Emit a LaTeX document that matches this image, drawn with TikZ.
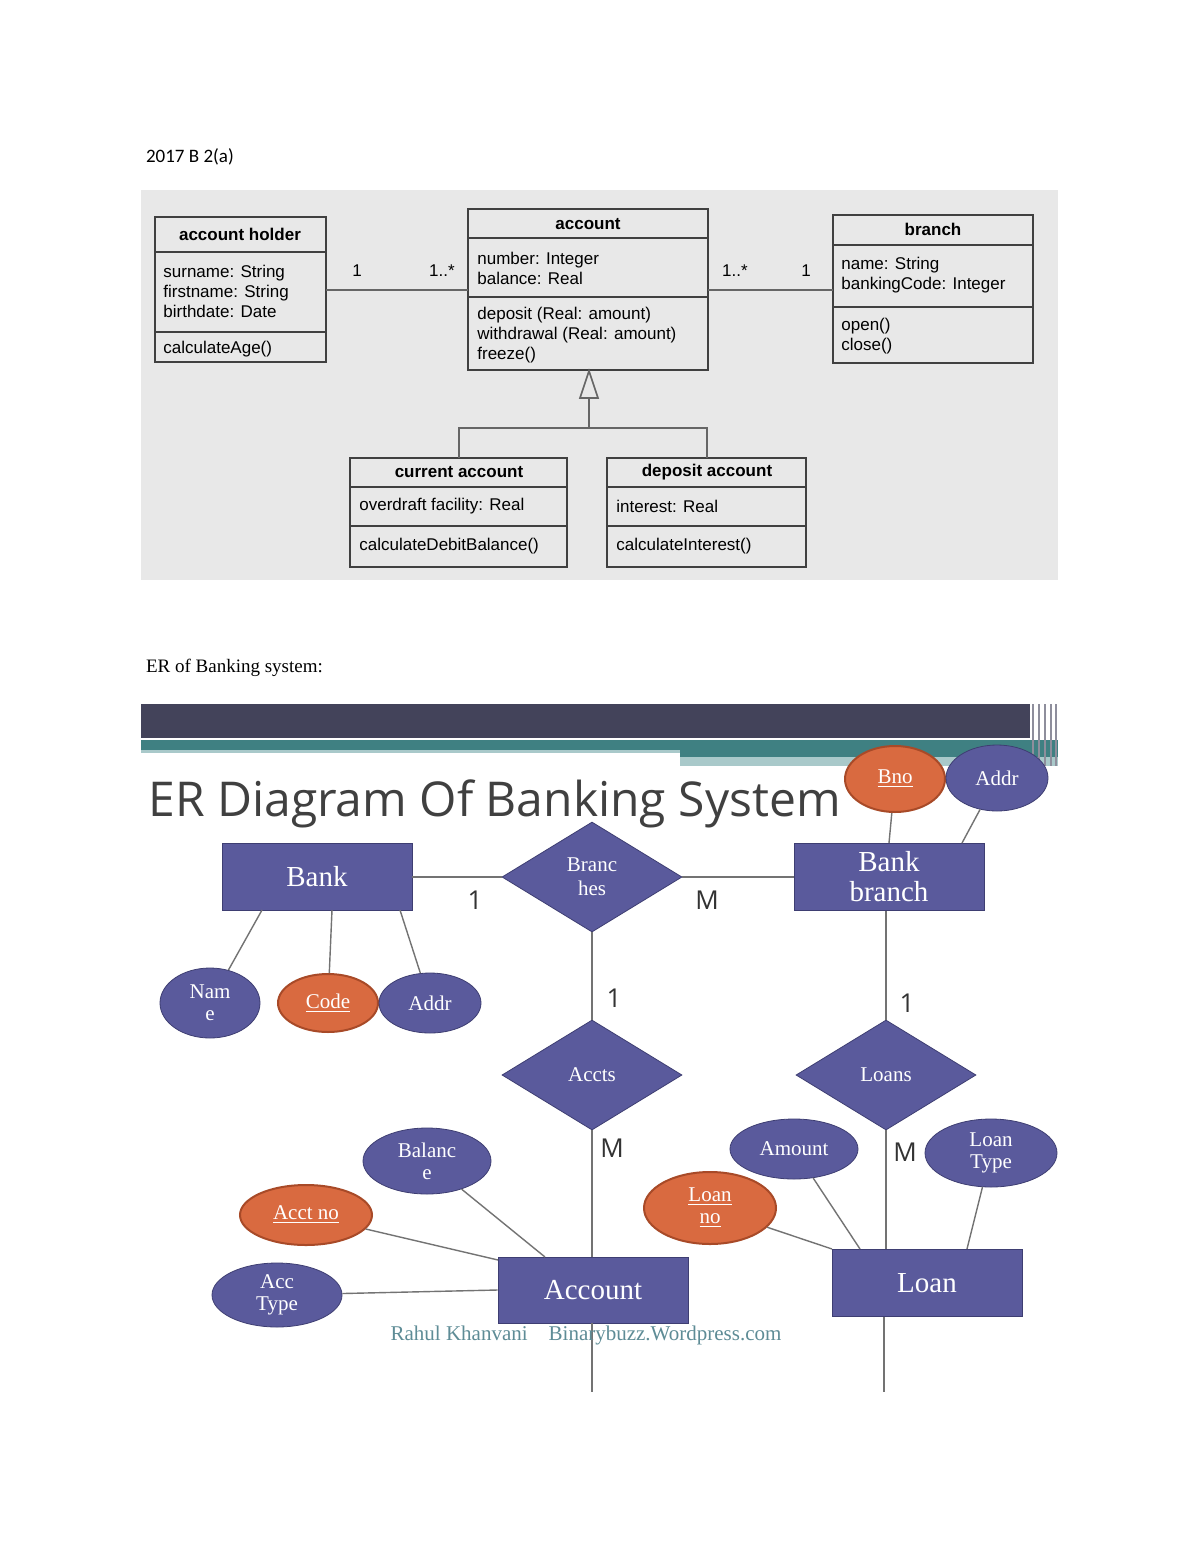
\documentclass[tikz,border=0pt]{standalone}
\usepackage{fontspec}
\setmainfont{Liberation Serif}
\newfontfamily\umlfnt{Liberation Sans}
\newfontfamily\calfnt{Carlito}
\newfontfamily\ttlfnt{Open Sans}
\usetikzlibrary{shapes.geometric}
\definecolor{umlbg}{HTML}{E8E8E8}
\definecolor{dk}{HTML}{43435A}
\definecolor{tl}{HTML}{3F8082}
\definecolor{tll}{HTML}{A9C9CA}
\definecolor{pur}{HTML}{5A5A9C}
\definecolor{purd}{HTML}{3E3E72}
\definecolor{org}{HTML}{D96A40}
\definecolor{orgd}{HTML}{A84A28}
\definecolor{ttlc}{HTML}{404040}
\definecolor{foot}{HTML}{5E8C96}
\begin{document}
\begin{tikzpicture}[x=0.5pt,y=-0.5pt,
 box/.style={draw=black!75,line width=0.8pt},
 ut/.style={font=\umlfnt\fontsize{8.5}{10}\selectfont,anchor=west,align=left,inner sep=0pt},
 uh/.style={font=\umlfnt\bfseries\fontsize{8.5}{10}\selectfont,inner sep=0pt},
 uc/.style={font=\umlfnt\fontsize{8.5}{10}\selectfont},
 ln/.style={draw=black!60,line width=0.8pt},
 ent/.style={draw=purd,fill=pur,text=white,font=\fontsize{14.5}{15}\selectfont,align=center,inner sep=0pt},
 rel/.style={diamond,draw=purd,fill=pur,text=white,font=\fontsize{10.5}{12}\selectfont,align=center,inner sep=0pt,minimum width=90pt,minimum height=55pt},
 att/.style={ellipse,draw=purd,fill=pur,text=white,font=\fontsize{10.5}{11}\selectfont,align=center,inner sep=0pt},
 key/.style={ellipse,draw=orgd,line width=1pt,fill=org,text=white,font=\fontsize{10.5}{11}\selectfont,align=center,inner sep=0pt},
 er/.style={draw=black!55,line width=0.7pt},
 card/.style={font=\ttlfnt\fontsize{13}{14}\selectfont,text=black!80}]
\useasboundingbox (0,0) rectangle (1200,1553);
\fill[white] (0,0) rectangle (1200,1553);
\node[font=\calfnt\fontsize{9.5}{10}\selectfont,anchor=west] (hd) at (139,157) {2017 B 2(a)};
\fill[umlbg] (141,190) rectangle (1058,580);
% account holder
\draw[box] (155,217) rectangle (326,362);
\draw[box] (155,252)--(326,252) (155,332)--(326,332);
\node[uh] (ahh) at (240,234) {account holder};
\node[ut] (aha) at (163,291) {surname: String\\firstname: String\\birthdate: Date};
\node[ut] (ahm) at (163,349) {calculateAge()};
\coordinate (ahR) at (326,290);
% account
\draw[box] (468,209) rectangle (708,370);
\draw[box] (468,238)--(708,238) (468,297)--(708,297);
\node[uh] (ach) at (588,224) {account};
\node[ut] (aca) at (477,268) {number: Integer\\balance: Real};
\node[ut] (acm) at (477,335) {deposit (Real: amount)\\withdrawal (Real: amount)\\freeze()};
\coordinate (acL) at (468,290); \coordinate (acR) at (708,290);
% branch
\draw[box] (833,215) rectangle (1033,363);
\draw[box] (833,245)--(1033,245) (833,307)--(1033,307);
\node[uh] (brh) at (933,229) {branch};
\node[ut] (bra) at (841,275) {name: String\\bankingCode: Integer};
\node[ut] (brm) at (841,336) {open()\\close()};
\coordinate (brL) at (833,290);
% current / deposit
\draw[box] (350,458) rectangle (567,567);
\draw[box] (350,487)--(567,487) (350,526)--(567,526);
\node[uh] (cuh) at (459,472) {current account};
\node[ut] (cua) at (359,506) {overdraft facility: Real};
\node[ut] (cum) at (359,546) {calculateDebitBalance()};
\draw[box] (607,458) rectangle (806,567);
\draw[box] (607,487)--(806,487) (607,526)--(806,526);
\node[uh] (deh) at (707,472) {deposit account};
\node[ut] (dea) at (616,506) {interest: Real};
\node[ut] (dem) at (616,546) {calculateInterest()};
\draw[ln] (ahR)--(acL) (acR)--(brL);
\node[uc] (c1) at (357,271) {1};
\node[uc] (c2) at (442,271) {1..*};
\node[uc] (c3) at (735,271) {1..*};
\node[uc] (c4) at (806,271) {1};
\coordinate (gA) at (589,371); \coordinate (gB) at (589,398);
\draw[ln,fill=umlbg] (gA)--(598,398)--(580,398)--cycle;
\draw[ln] (gB)--(589,428) (459,458)--(459,428)--(707,428)--(707,458);
% ER
\node[font=\fontsize{9.5}{10}\selectfont,anchor=west] (erh) at (139,668) {ER of Banking system:};
\fill[dk] (141,704) rectangle (1030,738);
\fill[tl] (141,740) rectangle (1058,750);
\fill[tll] (141,750) rectangle (680,753);
\fill[tl] (680,750) rectangle (1058,757);
\fill[tll] (680,757) rectangle (1058,766);
\foreach \x in {1032,1038,1044,1050,1055}{\fill[dk!60] (\x,704) rectangle (\x+2,766);}
\node[font=\ttlfnt\fontsize{24}{26}\selectfont,text=ttlc,anchor=west,inner sep=0pt] (title) at (148,804) {ER Diagram Of Banking System};
\node[ent,minimum width=95pt,minimum height=33.5pt] (bank) at (317,877) {Bank};
\node[ent,minimum width=95pt,minimum height=33.5pt] (bb) at (889,877) {Bank\\branch};
\node[ent,minimum width=95pt,minimum height=33pt] (acc) at (593,1290) {Account};
\node[ent,minimum width=95pt,minimum height=33.5pt] (loan) at (927,1283) {Loan};
\node[rel] (brs) at (592,877) {Branc\\hes};
\node[rel] (accts) at (592,1075) {Accts};
\node[rel] (loans) at (886,1075) {Loans};
\node[att,minimum width=50pt,minimum height=35pt] (name) at (210,1003) {Nam\\e};
\node[key,minimum width=50pt,minimum height=29pt] (code) at (328,1003) {\underline{Code}};
\node[att,minimum width=51pt,minimum height=30pt] (addr1) at (430,1003) {Addr};
\node[key,minimum width=50pt,minimum height=33pt] (bno) at (895,779) {\underline{Bno}};
\node[att,minimum width=51pt,minimum height=33pt] (addr2) at (997,778) {Addr};
\node[att,minimum width=64pt,minimum height=33pt] (bal) at (427,1161) {Balanc\\e};
\node[key,minimum width=66pt,minimum height=30pt] (actno) at (306,1215) {\underline{Acct no}};
\node[att,minimum width=65pt,minimum height=32pt] (acct) at (277,1295) {Acc\\Type};
\node[att,minimum width=64pt,minimum height=30pt] (amt) at (794,1149) {Amount};
\node[key,minimum width=66pt,minimum height=36pt] (lno) at (710,1208) {\underline{Loan}\\\underline{no}};
\node[att,minimum width=66pt,minimum height=34pt] (lt) at (991,1153) {Loan\\Type};
\coordinate (accB) at (592,1392); \coordinate (loanB) at (884,1392);
\draw[er] (bank.east)--(brs.west) (brs.east)--(bb.west);
\draw[er] (brs.south)--(accts.north) (bb.south-|loans.north)--(loans.north);
\draw[er] (accts.south)--(accts.south|-acc.north) (accts.south|-acc.south)--(accB);
\draw[er] (loans.south)--(loans.south|-loan.north) (loanB|-loan.south)--(loanB);
\draw[er] (name)--(262,910) (code)--(332,910) (addr1)--(400,910);
\draw[er] (bno)--(889,843) (addr2)--(962,843);
\draw[er] (bal)--(545,1257) (actno)--(498,1260) (acct)--(acc.west);
\draw[er] (amt)--(860,1249) (lno)--(832,1249) (lt)--(967,1249);
\node[card] (k1) at (475,900) {1};
\node[card] (k2) at (707,900) {M};
\node[card] (k3) at (614,998) {1};
\node[card] (k4) at (612,1148) {M};
\node[card] (k5) at (907,1003) {1};
\node[card] (k6) at (905,1152) {M};
\node[font=\fontsize{10.5}{11}\selectfont,text=foot] (ft) at (586,1335) {Rahul Khanvani\quad Binarybuzz.Wordpress.com};
\end{tikzpicture}
\end{document}
